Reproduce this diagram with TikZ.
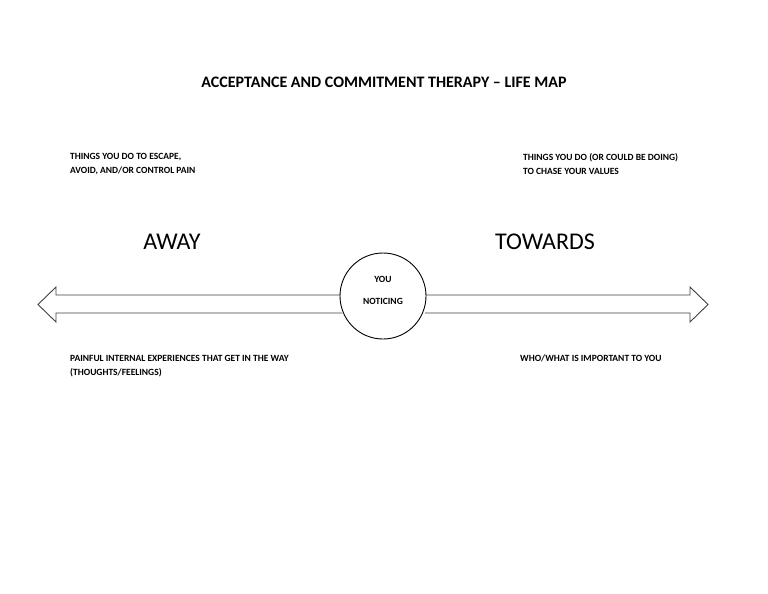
\documentclass[tikz,border=0pt]{standalone}
\usepackage{fontspec}
\setmainfont{Carlito}
\begin{document}
\begin{tikzpicture}[x=1pt,y=-1pt,
  small/.style={font=\fontsize{9.5}{14.5}\selectfont\bfseries, align=left, anchor=north west, inner sep=0},
  big/.style={font=\fontsize{24}{28}\selectfont},
  arr/.style={draw=black!75, line width=0.9pt, fill=white}]
\useasboundingbox (0,0) rectangle (768,594);
\node[font=\fontsize{16}{18}\selectfont\bfseries] (title) at (384,82) {ACCEPTANCE AND COMMITMENT THERAPY -- LIFE MAP};
\node[small] (tl) at (70,153) {THINGS YOU DO TO ESCAPE,\\AVOID, AND/OR CONTROL PAIN};
\node[small] (tr) at (523,153) {THINGS YOU DO (OR COULD BE DOING)\\TO CHASE YOUR VALUES};
\node[small] (bl) at (70,355) {PAINFUL INTERNAL EXPERIENCES THAT GET IN THE WAY\\(THOUGHTS/FEELINGS)};
\node[small] (br) at (520,355) {WHO/WHAT IS IMPORTANT TO YOU};
\node[big] (away) at (172,242) {AWAY};
\node[big] (tow) at (545,242) {TOWARDS};
\draw[arr] (342,295) -- (56,295) -- (56,287) -- (38,304.5) -- (56,322) -- (56,313) -- (342,313);
\draw[arr] (425,295) -- (690,295) -- (690,287) -- (708,304.5) -- (690,322) -- (690,313) -- (425,313);
\node[draw, circle, minimum size=86pt, line width=0.9pt, fill=white, inner sep=0] (c) at (383,296) {};
\node[font=\fontsize{9.5}{12}\selectfont\bfseries] (you) at (383,279) {YOU};
\node[font=\fontsize{9.5}{12}\selectfont\bfseries] (not) at (383,301) {NOTICING};
\end{tikzpicture}
\end{document}
